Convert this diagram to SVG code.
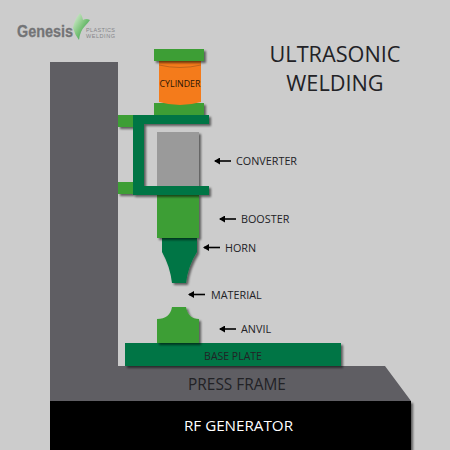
<svg xmlns="http://www.w3.org/2000/svg" width="450" height="450" viewBox="0 0 450 450">
<style>
.t{font-family:"Open Sans","Noto Sans",sans-serif;fill:#222226}
.lg{fill:#3d9e36}.dg{fill:#007544}.fr{fill:#5f5e63}
.ar{stroke:#000;stroke-width:1.6;fill:none;marker-start:url(#ah)}
</style>
<defs>
<marker id="ah" markerUnits="userSpaceOnUse" markerWidth="7" markerHeight="7" refX="1" refY="3.5" orient="auto"><path d="M0 3.5L6 0V7Z" fill="#000"/></marker>
<filter id="sh" x="-20%" y="-20%" width="150%" height="150%"><feDropShadow dx="2" dy="2" stdDeviation="1.2" flood-color="#000" flood-opacity=".55"/></filter>
<linearGradient id="leaf" x1="0" y1="0" x2="1" y2="1"><stop offset="0" stop-color="#e6f3e2"/><stop offset=".5" stop-color="#7cc47a"/><stop offset="1" stop-color="#17853f"/></linearGradient>
</defs>
<rect width="450" height="450" fill="#cccccc"/>
<g id="logo">
<path d="M80 13Q74 20 73 28Q75 35 79 40Q80 31 85 26Q88 23 90 20Q86 18 83 20Q82 15 80 13Z" fill="url(#leaf)"/>
<text x="17" y="37" font-family="'Liberation Sans',sans-serif" font-weight="700" font-size="17" fill="#737476" stroke="#737476" stroke-width=".3" textLength="56" lengthAdjust="spacingAndGlyphs">Genesis</text>
<text x="86" y="31.500" font-family="'Liberation Sans',sans-serif" font-size="5.500" fill="#85868a" textLength="29" lengthAdjust="spacing">PLASTICS</text>
<text x="86" y="37.500" font-family="'Liberation Sans',sans-serif" font-size="5.500" fill="#85868a" textLength="29" lengthAdjust="spacing">WELDING</text>
</g>
<g id="title" font-size="21.700" text-anchor="middle">
<text class="t" x="335" y="62">ULTRASONIC</text>
<text class="t" x="335" y="91">WELDING</text>
</g>
<g id="press-frame">
<path class="fr" d="M50 62H118V366H385L411 401V420H50Z"/>
<text class="t" x="237" y="390" font-size="15.400" text-anchor="middle">PRESS FRAME</text>
</g>
<g id="rf-generator">
<rect x="50" y="401" width="361" height="49" fill="#000" filter="url(#sh)"/>
<text x="238.500" y="431" font-family="'Open Sans','Noto Sans',sans-serif" font-size="15.200" fill="#fff" text-anchor="middle">RF GENERATOR</text>
</g>
<g id="base-plate">
<rect class="dg" x="125" y="343" width="216" height="23" filter="url(#sh)"/>
<text class="t" x="233" y="360" font-size="10.500" text-anchor="middle">BASE PLATE</text>
</g>
<g id="anvil">
<path class="lg" d="M157 343V319Q170 319 172 307H186Q188 319 199 319V343Z" filter="url(#sh)"/>
</g>
<g id="horn">
<path class="dg" d="M162 238H197V252Q188 266 186 283H172Q170 266 162 252Z" filter="url(#sh)"/>
</g>
<g id="booster">
<rect class="lg" x="157" y="194" width="42" height="44" filter="url(#sh)"/>
</g>
<g id="converter">
<rect x="157" y="132" width="42" height="54" fill="#9a9a9a" filter="url(#sh)"/>
</g>
<g id="mounts">
<rect class="lg" x="118" y="115" width="15" height="12" filter="url(#sh)"/>
<rect class="lg" x="118" y="182" width="15" height="12" filter="url(#sh)"/>
</g>
<g id="cylinder">
<rect class="lg" x="154" y="103" width="50" height="12" filter="url(#sh)"/>
<path d="M159 61H201V102Q180 108 159 102Z" fill="#f47b1b"/>
<path d="M159 65Q180 70 201 65" fill="none" stroke="#a0561c" stroke-width=".6"/>
<rect class="lg" x="154" y="49" width="50" height="12" filter="url(#sh)"/>
<text x="180" y="87" font-family="'Open Sans','Noto Sans',sans-serif" font-size="8.800" fill="#2a1405" text-anchor="middle">CYLINDER</text>
</g>
<g id="bracket">
<path class="dg" d="M133 115H209V124H144V186H209V195H133Z" filter="url(#sh)"/>
</g>
<g id="connectors">
<line class="ar" x1="215" y1="161" x2="231" y2="161"/>
<line class="ar" x1="220" y1="219" x2="236" y2="219"/>
<line class="ar" x1="204" y1="247.500" x2="220" y2="247.500"/>
<line class="ar" x1="189" y1="294.500" x2="205" y2="294.500"/>
<line class="ar" x1="220" y1="329" x2="236" y2="329"/>
</g>
<g id="labels" font-size="10.800">
<text class="t" x="236" y="165">CONVERTER</text>
<text class="t" x="241" y="223">BOOSTER</text>
<text class="t" x="225" y="252">HORN</text>
<text class="t" x="211" y="299">MATERIAL</text>
<text class="t" x="241" y="333">ANVIL</text>
</g>
</svg>
